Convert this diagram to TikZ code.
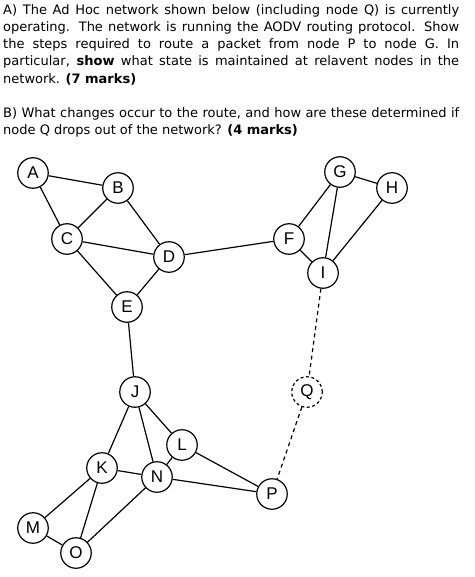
\documentclass[tikz,border=0pt]{standalone}
\usepackage{fontspec}
\setmainfont{DejaVu Sans}
\newfontfamily\labelfont{Liberation Sans}
\usetikzlibrary{positioning}

\tikzset{
  host/.style={circle, draw, line width=1.2pt, minimum size=30.5pt, inner sep=0pt,
    font=\labelfont\fontsize{17}{17}\selectfont},
  lostHost/.style={host, dash pattern=on 3pt off 2.5pt},
  link/.style={line width=1.2pt},
  weakLink/.style={link, dash pattern=on 4pt off 3.5pt},
  question/.style={anchor=north west, inner sep=0pt, text width=456pt, align=justify,
    font=\fontsize{13}{17.25}\selectfont},
}

\begin{document}
\begin{tikzpicture}[x=1pt, y=-1pt]
  \useasboundingbox (0,0) rectangle (474,577);
  % the two questions
  \node[question] (partA) at (3,4) {A) The Ad Hoc network shown below (including node Q) is currently\linebreak
    operating. The network is running the AODV routing protocol. Show\linebreak
    the steps required to route a packet from node P to node G. In\linebreak
    particular, \textbf{show} what state is maintained at relavent nodes in the\linebreak
    network. \textbf{(7 marks)}};
  \node[question] (partB) at (3,107) {B) What changes occur to the route, and how are these determined if\linebreak
    node Q drops out of the network? \textbf{(4 marks)}};

  % upper left cluster
  \node[host] (A) at (33,173) {A};
  \node[host] (B) at (118,188) {B};
  \node[host] (C) at (67,239) {C};
  \node[host] (D) at (169,257) {D};
  \node[host] (E) at (127,307) {E};
  % upper right cluster
  \node[host] (F) at (289,239) {F};
  \node[host] (G) at (340,172) {G};
  \node[host] (H) at (392,188) {H};
  \node[host] (I) at (323,273) {I};
  \node[lostHost] (Q) at (307,392) {Q};
  % lower cluster
  \node[host] (J) at (135,392) {J};
  \node[host] (L) at (182,445) {L};
  \node[host] (K) at (102,468) {K};
  \node[host] (N) at (157,477) {N};
  \node[host] (P) at (272,494) {P};
  \node[host] (M) at (33,528) {M};
  \node[host] (O) at (76,553) {O};

  \foreach \u/\v in {A/B, A/C, B/C, B/D, C/D, C/E, D/E, D/F,
                     F/G, F/I, G/I, G/H, H/I,
                     E/J, J/K, J/N, J/L, L/N, L/P, K/N, N/P,
                     K/M, K/O, M/O, N/O}
    \draw[link] (\u) -- (\v);
  \draw[weakLink] (I) -- (Q);
  \draw[weakLink] (Q) -- (P);
\end{tikzpicture}
\end{document}
